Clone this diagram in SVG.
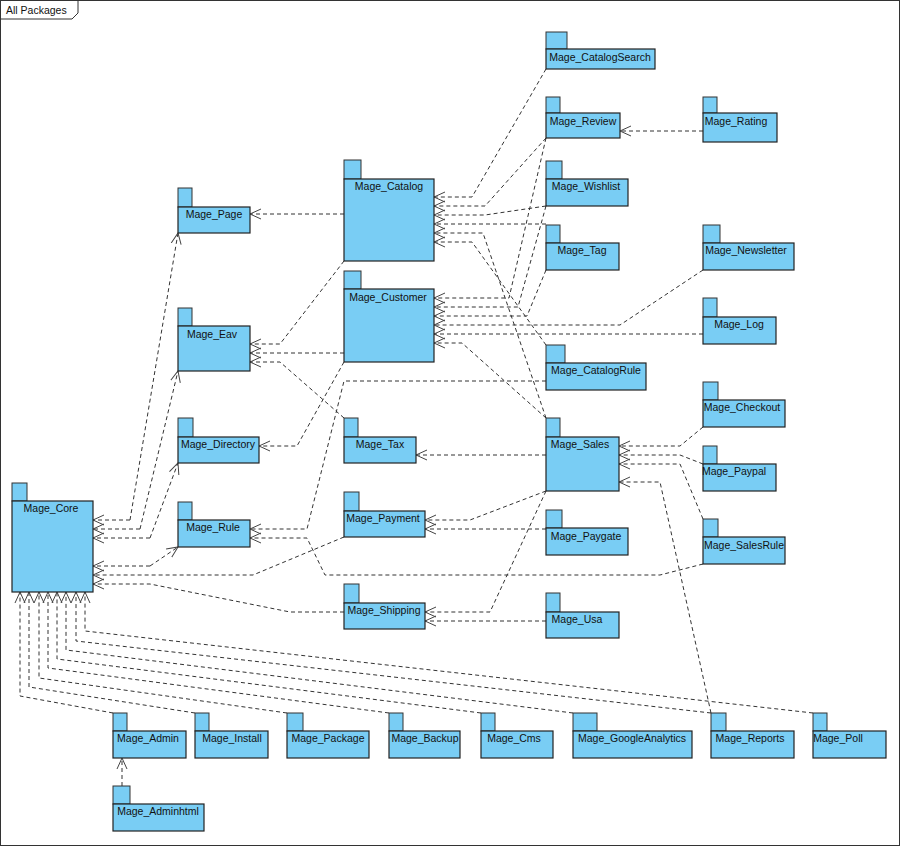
<svg xmlns="http://www.w3.org/2000/svg" width="900" height="846" viewBox="0 0 900 846">
<style>
.t{fill:#79cdf4;stroke:#333;stroke-width:1}
.b{fill:#79cdf4;stroke:#222;stroke-width:1.2}
text{font-family:"Liberation Sans",Arial,sans-serif;font-size:10.5px;fill:#111;text-anchor:middle}
.c path{fill:none;stroke:#333;stroke-width:1;stroke-dasharray:4,3;marker-end:url(#a)}
</style>
<defs>
<marker id="a" markerUnits="userSpaceOnUse" markerWidth="12" markerHeight="12" refX="11" refY="5" orient="auto" viewBox="0 0 12 10">
<path d="M0,0 L11,5 L0,10" fill="none" stroke="#444" stroke-width="1" stroke-dasharray="none"/>
</marker>
</defs>
<rect x="0.5" y="0.5" width="899" height="845" fill="#fff" stroke="#333"/>
<path d="M0.5,19 H72 L78,13 V0.5" fill="none" stroke="#333"/>
<text x="6" y="14" style="text-anchor:start">All Packages</text>

<g class="c">
<path d="M130,520 L178,233"/>
<path d="M140,529 L178,371"/>
<path d="M150,538 L178,463"/>
<path d="M150,566 L178,547"/>
<path d="M344,537 L253,575 L93,575"/>
<path d="M344,612 L290,612 L150,584 L93,584"/>
<path d="M130,520 L93,520"/><path d="M140,529 L93,529"/><path d="M150,538 L93,538"/><path d="M150,566 L93,566"/>
<path d="M113,713 L20,696 L20,592"/>
<path d="M195,713 L29,687 L29,592"/>
<path d="M287,713 L39,678 L39,592"/>
<path d="M389,713 L48,668 L48,592"/>
<path d="M481,713 L57,659 L57,592"/>
<path d="M573,713 L66,650 L66,592"/>
<path d="M711,713 L76,641 L76,592"/>
<path d="M813,713 L85,631 L85,592"/>
<path d="M122,786 L122,758"/>
<path d="M344,214 L250,214"/>
<path d="M344,261 L280,344 L250,344"/>
<path d="M344,353 L250,353"/>
<path d="M344,418 L280,362 L250,362"/>
<path d="M344,362 L297,446 L259,446"/>
<path d="M546,381 L344,381 L307,529 L250,529"/>
<path d="M703,564 L660,575 L325,575 L307,538 L250,538"/>
<path d="M546,491 L470,520 L425,520"/>
<path d="M546,529 L425,529"/>
<path d="M546,491 L490,612 L425,612"/>
<path d="M546,621 L425,621"/>
<path d="M546,455 L416,455"/>
<path d="M703,427 L680,446 L619,446"/>
<path d="M703,464 L680,455 L619,455"/>
<path d="M703,519 L680,464 L619,464"/>
<path d="M711,713 L660,482 L619,482"/>
<path d="M703,131 L620,131"/>
<path d="M546,69 L472,197 L434,197"/>
<path d="M546,138 L485,206 L434,206"/>
<path d="M546,206 L485,215 L434,215"/>
<path d="M546,224 L434,224"/>
<path d="M546,418 L483,233 L434,233"/>
<path d="M546,345 L472,242 L434,242"/>
<path d="M546,138 L509,298 L434,298"/>
<path d="M546,206 L518,307 L434,307"/>
<path d="M546,270 L527,316 L434,316"/>
<path d="M703,270 L620,325 L434,325"/>
<path d="M703,334 L434,334"/>
<path d="M546,418 L462,343 L434,343"/>
</g>

<g id="Mage_CatalogSearch"><rect class="t" x="546" y="32" width="21" height="17"/><rect class="b" x="546" y="49" width="109" height="20"/><text x="600" y="61">Mage_CatalogSearch</text></g>
<g id="Mage_Review"><rect class="t" x="546" y="97" width="14" height="16"/><rect class="b" x="546" y="113" width="74" height="25"/><text x="583" y="125">Mage_Review</text></g>
<g id="Mage_Rating"><rect class="t" x="703" y="97" width="14" height="16"/><rect class="b" x="703" y="113" width="74" height="29"/><text x="736" y="125">Mage_Rating</text></g>
<g id="Mage_Catalog"><rect class="t" x="344" y="160" width="17" height="19"/><rect class="b" x="344" y="179" width="90" height="82"/><text x="389" y="190">Mage_Catalog</text></g>
<g id="Mage_Page"><rect class="t" x="178" y="188" width="14" height="19"/><rect class="b" x="178" y="207" width="72" height="26"/><text x="214" y="218">Mage_Page</text></g>
<g id="Mage_Wishlist"><rect class="t" x="546" y="161" width="16" height="18"/><rect class="b" x="546" y="179" width="82" height="27"/><text x="586" y="190">Mage_Wishlist</text></g>
<g id="Mage_Tag"><rect class="t" x="546" y="225" width="14" height="18"/><rect class="b" x="546" y="243" width="73" height="27"/><text x="582" y="254">Mage_Tag</text></g>
<g id="Mage_Newsletter"><rect class="t" x="703" y="225" width="17" height="18"/><rect class="b" x="703" y="243" width="91" height="27"/><text x="746" y="254">Mage_Newsletter</text></g>
<g id="Mage_Customer"><rect class="t" x="344" y="271" width="17" height="18"/><rect class="b" x="344" y="289" width="90" height="73"/><text x="388" y="301">Mage_Customer</text></g>
<g id="Mage_Eav"><rect class="t" x="178" y="308" width="14" height="18"/><rect class="b" x="178" y="326" width="72" height="45"/><text x="212" y="338">Mage_Eav</text></g>
<g id="Mage_Log"><rect class="t" x="703" y="298" width="14" height="19"/><rect class="b" x="703" y="317" width="73" height="27"/><text x="739" y="328">Mage_Log</text></g>
<g id="Mage_CatalogRule"><rect class="t" x="546" y="345" width="19" height="18"/><rect class="b" x="546" y="363" width="100" height="27"/><text x="596" y="374">Mage_CatalogRule</text></g>
<g id="Mage_Directory"><rect class="t" x="178" y="418" width="15" height="19"/><rect class="b" x="178" y="437" width="81" height="26"/><text x="218" y="448">Mage_Directory</text></g>
<g id="Mage_Tax"><rect class="t" x="344" y="418" width="14" height="19"/><rect class="b" x="344" y="437" width="72" height="26"/><text x="380" y="448">Mage_Tax</text></g>
<g id="Mage_Sales"><rect class="t" x="546" y="418" width="14" height="19"/><rect class="b" x="546" y="437" width="73" height="54"/><text x="580" y="448">Mage_Sales</text></g>
<g id="Mage_Checkout"><rect class="t" x="703" y="382" width="15" height="18"/><rect class="b" x="703" y="400" width="82" height="27"/><text x="742" y="411">Mage_Checkout</text></g>
<g id="Mage_Paypal"><rect class="t" x="703" y="446" width="14" height="18"/><rect class="b" x="703" y="464" width="73" height="27"/><text x="734" y="475">Mage_Paypal</text></g>
<g id="Mage_Core"><rect class="t" x="12" y="483" width="15" height="18"/><rect class="b" x="12" y="501" width="81" height="91"/><text x="51" y="512">Mage_Core</text></g>
<g id="Mage_Rule"><rect class="t" x="178" y="502" width="14" height="18"/><rect class="b" x="178" y="520" width="72" height="27"/><text x="213" y="531">Mage_Rule</text></g>
<g id="Mage_Payment"><rect class="t" x="344" y="492" width="15" height="19"/><rect class="b" x="344" y="511" width="81" height="26"/><text x="383" y="522">Mage_Payment</text></g>
<g id="Mage_Paygate"><rect class="t" x="546" y="510" width="16" height="18"/><rect class="b" x="546" y="528" width="82" height="27"/><text x="586" y="540">Mage_Paygate</text></g>
<g id="Mage_SalesRule"><rect class="t" x="703" y="519" width="15" height="18"/><rect class="b" x="703" y="537" width="82" height="27"/><text x="744" y="549">Mage_SalesRule</text></g>
<g id="Mage_Shipping"><rect class="t" x="344" y="584" width="15" height="19"/><rect class="b" x="344" y="603" width="81" height="26"/><text x="384" y="614">Mage_Shipping</text></g>
<g id="Mage_Usa"><rect class="t" x="546" y="593" width="14" height="19"/><rect class="b" x="546" y="612" width="73" height="26"/><text x="577" y="623">Mage_Usa</text></g>
<g id="Mage_Admin"><rect class="t" x="113" y="713" width="14" height="18"/><rect class="b" x="113" y="731" width="73" height="27"/><text x="148" y="742">Mage_Admin</text></g>
<g id="Mage_Install"><rect class="t" x="195" y="713" width="14" height="18"/><rect class="b" x="195" y="731" width="73" height="27"/><text x="232" y="742">Mage_Install</text></g>
<g id="Mage_Package"><rect class="t" x="287" y="713" width="16" height="18"/><rect class="b" x="287" y="731" width="82" height="27"/><text x="328" y="742">Mage_Package</text></g>
<g id="Mage_Backup"><rect class="t" x="389" y="713" width="14" height="18"/><rect class="b" x="389" y="731" width="71" height="27"/><text x="425" y="742">Mage_Backup</text></g>
<g id="Mage_Cms"><rect class="t" x="481" y="713" width="14" height="18"/><rect class="b" x="481" y="731" width="72" height="27"/><text x="514" y="742">Mage_Cms</text></g>
<g id="Mage_GoogleAnalytics"><rect class="t" x="573" y="713" width="24" height="18"/><rect class="b" x="573" y="731" width="119" height="27"/><text x="632" y="742">Mage_GoogleAnalytics</text></g>
<g id="Mage_Reports"><rect class="t" x="711" y="713" width="15" height="18"/><rect class="b" x="711" y="731" width="83" height="27"/><text x="750" y="742">Mage_Reports</text></g>
<g id="Mage_Poll"><rect class="t" x="813" y="713" width="14" height="18"/><rect class="b" x="813" y="731" width="73" height="27"/><text x="838" y="742">Mage_Poll</text></g>
<g id="Mage_Adminhtml"><rect class="t" x="113" y="786" width="17" height="18"/><rect class="b" x="113" y="804" width="91" height="27"/><text x="158" y="815">Mage_Adminhtml</text></g>
</svg>
